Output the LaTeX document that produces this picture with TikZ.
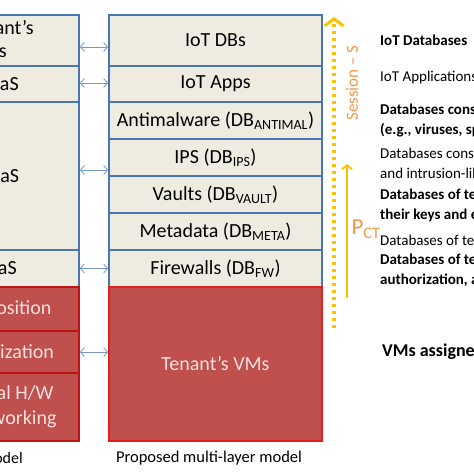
\documentclass[tikz,border=0pt]{standalone}
\usepackage{fontspec}
\setmainfont{Carlito}
\usetikzlibrary{arrows.meta}

\definecolor{layerfill}{RGB}{238,236,225}
\definecolor{layerblue}{RGB}{72,118,180}
\definecolor{hwred}{RGB}{192,80,77}
\definecolor{darkred}{RGB}{192,20,20}
\definecolor{brightred}{RGB}{230,30,30}
\definecolor{linkblue}{RGB}{120,150,200}
\definecolor{gold}{RGB}{255,192,0}
\definecolor{orangetext}{RGB}{247,150,70}
\definecolor{pinktext}{RGB}{245,225,224}

\tikzset{
  layer/.style={draw=layerblue, line width=1.7pt, fill=layerfill, inner sep=0pt,
    align=center, font=\fontsize{20}{23}\selectfont},
  hwlayer/.style={draw=darkred, line width=1.7pt, fill=hwred, text=pinktext, inner sep=0pt,
    align=center, font=\fontsize{20}{25}\selectfont},
  link/.style={linkblue, line width=0.8pt,
    {Straight Barb[length=4pt,width=9pt]}-{Straight Barb[length=4pt,width=9pt]}},
  note/.style={anchor=west, align=left, inner sep=0pt, font=\fontsize{15}{20}\selectfont},
  boldnote/.style={note, font=\fontsize{15}{20}\selectfont\bfseries},
}

\begin{document}
\begin{tikzpicture}[x=1pt,y=-1pt]
  \useasboundingbox (0,0) rectangle (474,474);
  \clip (0,0) rectangle (474,474);

  % traditional model (cut at the left edge)
  \node[layer, align=left, minimum width=158pt, minimum height=51pt] (l1) at (0,40.5) {Tenant’s\\Apps};
  \node[layer, minimum width=158pt, minimum height=36pt] (l2) at (0,84) {SaaS};
  \node[layer, minimum width=158pt, minimum height=148pt] (l3) at (0,176) {PaaS};
  \node[layer, minimum width=158pt, minimum height=37pt] (l4) at (0,268.5) {IaaS};
  \node[hwlayer, minimum width=158pt, minimum height=44pt] (l5) at (0,309) {Composition};
  \node[hwlayer, minimum width=158pt, minimum height=42pt] (l6) at (0,352) {Virtualization};
  \node[hwlayer, minimum width=158pt, minimum height=68pt] (l7) at (0,407) {Physical H/W\\\& Networking};
  \node[anchor=east, inner sep=0pt, font=\fontsize{16}{18}\selectfont] (lcap) at (23,458) {Traditional model};

  % proposed model
  \node[layer, minimum width=213pt, minimum height=51pt] (r1) at (215.5,40.5) {IoT DBs};
  \node[layer, minimum width=213pt, minimum height=36pt] (r2) at (215.5,84) {IoT Apps};
  \node[layer, minimum width=213pt, minimum height=37pt] (r3) at (215.5,120.5) {Antimalware (DB\textsubscript{ANTIMAL})};
  \node[layer, minimum width=213pt, minimum height=37pt] (r4) at (215.5,157.5) {IPS (DB\textsubscript{IPS})};
  \node[layer, minimum width=213pt, minimum height=37pt] (r5) at (215.5,194.5) {Vaults (DB\textsubscript{VAULT})};
  \node[layer, minimum width=213pt, minimum height=37pt] (r6) at (215.5,231.5) {Metadata (DB\textsubscript{META})};
  \node[layer, minimum width=213pt, minimum height=37pt] (r7) at (215.5,268.5) {Firewalls (DB\textsubscript{FW})};
  \node[hwlayer, draw=brightred, minimum width=213pt, minimum height=154pt] (r8) at (215.5,364) {Tenant’s VMs};
  \node[font=\fontsize{16.5}{18}\selectfont] (rcap) at (209,458) {Proposed multi-layer model};

  % links between the two models
  \draw[link] ([yshift=-6.5pt]l1.east) -- ([yshift=-6.5pt]r1.west);
  \draw[link] ([yshift=1pt]l2.east) -- ([yshift=1pt]r2.west);
  \draw[link] ([yshift=6pt]l3.east) -- ([yshift=6pt]l3.east -| r4.west);
  \draw[link] (l4.east) -- (r7.west);
  \draw[link] (l6.east) -- (l6.east -| r8.west);

  % session and P_CT arrows
  \coordinate (sbot) at (334,328);
  \coordinate (stop) at (334,17);
  \coordinate (pbot) at (347,298);
  \coordinate (ptop) at (347,164);
  \draw[gold, line width=3.2pt, dash pattern=on 3.2pt off 3.8pt,
    -{Straight Barb[length=7pt,width=19pt,line width=3pt]}] (sbot) -- (stop);
  \draw[gold, line width=1.8pt, -{Straight Barb[length=4pt,width=10pt]}] (pbot) -- (ptop);
  \node[rotate=90, text=orangetext, font=\fontsize{17}{20}\selectfont] (session) at (352,83) {Session -- S};
  \node[text=orangetext, font=\fontsize{23}{23}\selectfont, inner sep=0pt] (pct) at (366,229) {P\textsubscript{CT}};

  % descriptions
  \node[boldnote] (n1) at (380,40) {IoT Databases};
  \node[note] (n2) at (380,77) {IoT Applications};
  \node[boldnote] (n3) at (380,120.5) {Databases consisting of malware signatures\\(e.g., viruses, spyware, worms)};
  \node[note] (n4) at (380,164) {Databases consisting of intrusion signatures\\and intrusion-like patterns};
  \node[boldnote] (n5) at (380,205.5) {Databases of tenants’ vaults,\\their keys and encryption algorithms};
  \node[note] (n6) at (380,240) {Databases of tenants’ metadata};
  \node[boldnote] (n7) at (380,270) {Databases of tenants’ firewalls,\\authorization, and access rules};
  \node[anchor=west, inner sep=0pt, font=\fontsize{18}{20}\selectfont\bfseries] (n8) at (382,352) {VMs assigned to tenants};
\end{tikzpicture}
\end{document}
